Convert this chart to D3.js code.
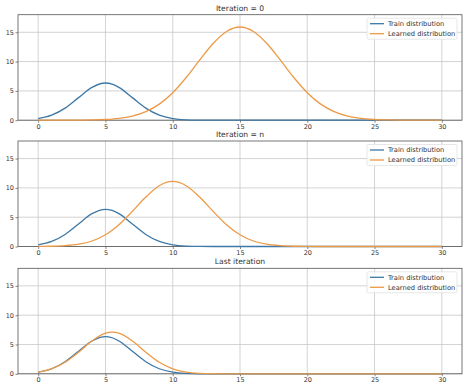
<!DOCTYPE html>
<html>
<head>
<meta charset="utf-8">
<script src="https://cdn.jsdelivr.net/npm/d3@7"></script>
<style>
  body { margin: 0; background: #fff; }
  svg text { font-family: "DejaVu Sans", sans-serif; fill: #333; }
</style>
</head>
<body>
<div id="chart"></div>
<script>
const xs = [0, 1, 2, 3, 4, 5, 5.5, 6, 7, 8, 9, 10, 11, 12, 13, 14, 15,
            16, 17, 18, 19, 20, 21, 22, 23, 24, 25, 26, 27, 28, 29, 30];

// train distribution (same in all three panels)
const trainVals = [0.28, 0.86, 2.06, 3.85, 5.60, 6.35, 6.15, 5.60, 3.85, 2.06, 0.86, 0.28, 0.07, 0.01, 0, 0, 0,
                   0, 0, 0, 0, 0, 0, 0, 0, 0, 0, 0, 0, 0, 0, 0];

// learned distribution per panel
const learned0 = [0, 0, 0.004, 0.014, 0.04, 0.12, 0.19, 0.30, 0.70, 1.45, 2.74, 4.69, 7.28, 10.25, 13.08, 15.14, 15.9,
                  15.14, 13.08, 10.25, 7.28, 4.69, 2.74, 1.45, 0.70, 0.30, 0.12, 0.04, 0.014, 0.004, 0, 0];
const learnedN = [0.012, 0.043, 0.14, 0.39, 0.94, 2.0, 2.77, 3.71, 6.0, 8.44, 10.37, 11.1, 10.37, 8.44, 6.0, 3.71, 2.0,
                  0.94, 0.39, 0.14, 0.043, 0.012, 0, 0, 0, 0, 0, 0, 0, 0, 0, 0];
const learnedLast = [0.30, 0.85, 1.97, 3.69, 5.61, 6.92, 7.1, 6.92, 5.61, 3.69, 1.97, 0.85, 0.30, 0.086, 0.02, 0.004, 0,
                     0, 0, 0, 0, 0, 0, 0, 0, 0, 0, 0, 0, 0, 0, 0];

const titles = ["Iteration = 0", "Iteration = n", "Last iteration"];
const learnedSeries = [learned0, learnedN, learnedLast];
const legendLabels = ["Train distribution", "Learned distribution"];
const xTicks = [0, 5, 10, 15, 20, 25, 30];
const yTicks = [0, 5, 10, 15];

const width = 474, height = 389;
const left = 18, right = 462, panelH = 105.5;
const tops = [14.7, 141, 268.3];
const blue = "#3d78a6", orange = "#ec9a47";

const svg = d3.select("#chart").append("svg")
    .attr("width", width).attr("height", height);

const x = d3.scaleLinear().domain([-1.5, 31.5]).range([left, right]);

titles.forEach((title, i) => {
    const top = tops[i];
    const y = d3.scaleLinear().domain([0, 18]).range([top + panelH, top]);
    const g = svg.append("g");

    // grid
    g.selectAll(".gx").data(xTicks).enter().append("line")
        .attr("x1", d => x(d)).attr("x2", d => x(d))
        .attr("y1", top).attr("y2", top + panelH)
        .attr("stroke", "#c8c8c8").attr("stroke-width", 0.8);
    g.selectAll(".gy").data(yTicks).enter().append("line")
        .attr("x1", left).attr("x2", right)
        .attr("y1", d => y(d)).attr("y2", d => y(d))
        .attr("stroke", "#c8c8c8").attr("stroke-width", 0.8);

    // axes
    const xAxis = g.append("g").attr("transform", `translate(0,${top + panelH})`)
        .call(d3.axisBottom(x).tickValues(xTicks).tickSize(2.5).tickPadding(1.5));
    const yAxis = g.append("g").attr("transform", `translate(${left},0)`)
        .call(d3.axisLeft(y).tickValues(yTicks).tickSize(2.5).tickPadding(1.5));
    [xAxis, yAxis].forEach(a => {
        a.select(".domain").remove();
        a.selectAll("line").attr("stroke", "#555").attr("stroke-width", 0.7);
        a.selectAll("text").style("font-family", "DejaVu Sans").style("font-size", "6.5px").attr("fill", "#333");
    });

    // spines
    g.append("rect")
        .attr("x", left).attr("y", top).attr("width", right - left).attr("height", panelH)
        .attr("fill", "none").attr("stroke", "#555").attr("stroke-width", 0.8);

    // curves
    const line = d3.line()
        .x((d, j) => x(xs[j]))
        .y(d => y(d))
        .curve(d3.curveMonotoneX);
    g.append("path").datum(trainVals).attr("d", line)
        .attr("fill", "none").attr("stroke", blue).attr("stroke-width", 1.3);
    g.append("path").datum(learnedSeries[i]).attr("d", line)
        .attr("fill", "none").attr("stroke", orange).attr("stroke-width", 1.3);

    // title
    svg.append("text")
        .attr("x", (left + right) / 2).attr("y", top - 4)
        .attr("text-anchor", "middle")
        .style("font-size", "7.6px")
        .text(title);

    // legend
    const lg = g.append("g").attr("transform", `translate(367,${top + 3.5})`);
    lg.append("rect").attr("width", 90).attr("height", 21).attr("rx", 1.5)
        .attr("fill", "#fff").attr("fill-opacity", 0.85)
        .attr("stroke", "#ddd").attr("stroke-width", 0.7);
    legendLabels.forEach((lab, k) => {
        const ly = 5.5 + k * 10;
        lg.append("line").attr("x1", 3).attr("x2", 17).attr("y1", ly).attr("y2", ly)
            .attr("stroke", k === 0 ? blue : orange).attr("stroke-width", 1.3);
        lg.append("text").attr("x", 21).attr("y", ly + 2.3)
            .style("font-size", "6.7px").text(lab);
    });
});
</script>
</body>
</html>
